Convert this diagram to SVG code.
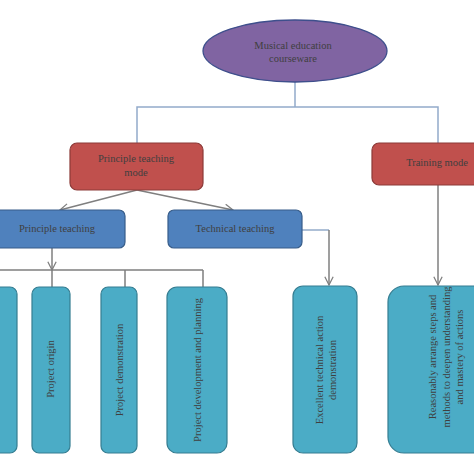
<svg xmlns="http://www.w3.org/2000/svg" width="474" height="474" viewBox="0 0 474 474">
<style>
text{font-family:"Liberation Serif","DejaVu Serif",serif;font-size:10.5px;fill:#3f3f3f;text-anchor:middle;dominant-baseline:central}
.red{fill:#c0504d;stroke:#8c3a38;stroke-width:1.2}
.blue{fill:#4f81bd;stroke:#385d8a;stroke-width:1.2}
.teal{fill:#4bacc6;stroke:#357d91;stroke-width:1.2}
.lb{fill:none;stroke:#93abca;stroke-width:1.5}
.gr{fill:none;stroke:#7f7f7f;stroke-width:1.5}
</style>
<defs>
<marker id="arr" viewBox="0 0 12 12" refX="11" refY="6" markerWidth="10" markerHeight="10" markerUnits="userSpaceOnUse" orient="auto">
<path d="M1,1 L11,6 L1,11" fill="none" stroke="#7f7f7f" stroke-width="1.5"/>
</marker>
</defs>
<rect width="474" height="474" fill="#ffffff"/>
<g id="connectors">
<path class="lb" d="M295,82 V107 M137,143 V107 H438 V143"/>
<path class="gr" d="M137,190 L60,210" marker-end="url(#arr)"/>
<path class="gr" d="M137,190 L233,210" marker-end="url(#arr)"/>
<path class="gr" d="M52,248 V270" marker-end="url(#arr)"/>
<path class="gr" d="M-5,270 H203 M52,270 V287 M125,270 V287 M203,270 V287"/>
<path class="lb" d="M302,230 H329"/>
<path class="gr" d="M329,230 V285" marker-end="url(#arr)"/>
<path class="gr" d="M438,185 V285" marker-end="url(#arr)"/>
</g>
<g id="root">
<ellipse cx="295" cy="51" rx="92" ry="31" fill="#8064a2" stroke="#3e4f8c" stroke-width="1.3"/>
<text x="293" y="45">Musical education</text>
<text x="293" y="58">courseware</text>
</g>
<g id="principle-mode">
<rect class="red" x="70" y="143" width="133" height="47" rx="7"/>
<text x="136" y="158">Principle teaching</text>
<text x="136" y="172">mode</text>
</g>
<g id="training-mode">
<rect class="red" x="372" y="143" width="132" height="42" rx="7"/>
<text x="437" y="162">Training mode</text>
</g>
<g id="principle-teaching">
<rect class="blue" x="-10" y="210" width="135" height="38" rx="6"/>
<text x="57" y="228">Principle teaching</text>
</g>
<g id="technical-teaching">
<rect class="blue" x="168" y="210" width="134" height="38" rx="6"/>
<text x="235" y="228">Technical teaching</text>
</g>
<g id="box-a">
<rect class="teal" x="-20" y="287" width="37" height="166" rx="7"/>
</g>
<g id="project-origin">
<rect class="teal" x="32" y="287" width="38" height="166" rx="7"/>
<text transform="translate(50,369) rotate(-90)">Project origin</text>
</g>
<g id="project-demonstration">
<rect class="teal" x="101" y="287" width="36" height="166" rx="7"/>
<text transform="translate(119,370) rotate(-90)">Project demonstration</text>
</g>
<g id="project-development">
<rect class="teal" x="167" y="287" width="60" height="166" rx="10"/>
<text transform="translate(197,370) rotate(-90)">Project development and planning</text>
</g>
<g id="excellent">
<rect class="teal" x="293" y="286" width="64" height="167" rx="10"/>
<text transform="translate(319,370) rotate(-90)">Excellent technical action</text>
<text transform="translate(332,370) rotate(-90)">demonstration</text>
</g>
<g id="reasonably">
<rect class="teal" x="388" y="286" width="116" height="167" rx="16"/>
<text transform="translate(432,357) rotate(-90)">Reasonably arrange steps and</text>
<text transform="translate(446,357) rotate(-90)">methods to deepen understanding</text>
<text transform="translate(459,357) rotate(-90)">and mastery of actions</text>
</g>
</svg>
